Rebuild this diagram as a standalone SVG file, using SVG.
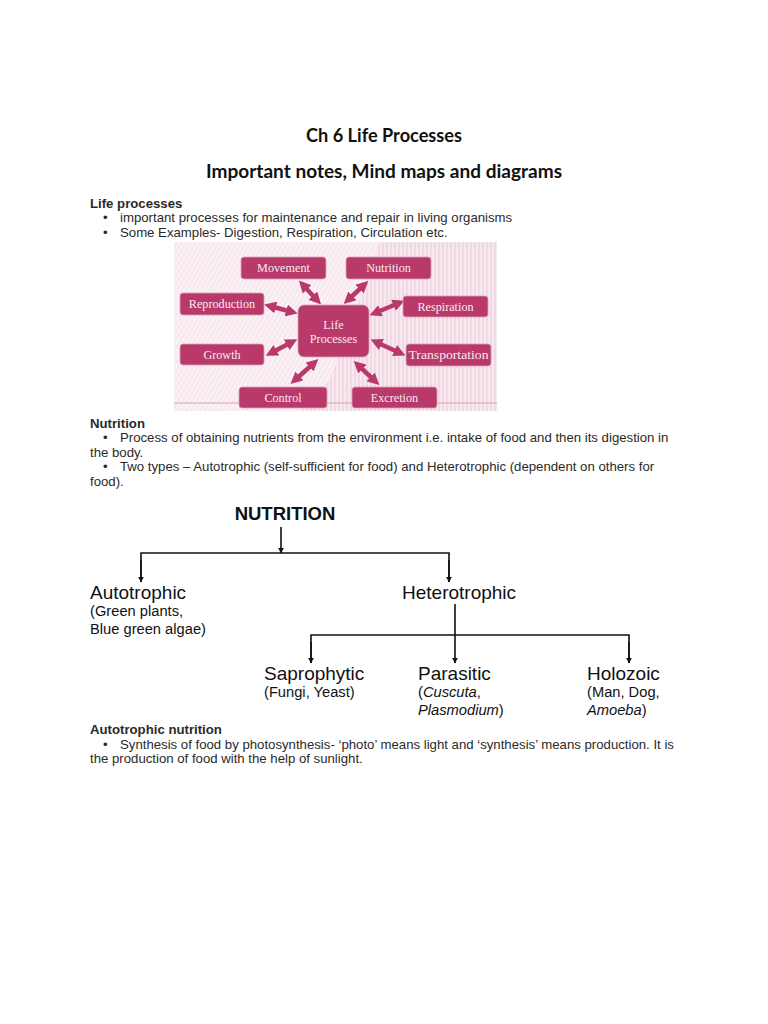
<svg xmlns="http://www.w3.org/2000/svg" width="768" height="1024" viewBox="0 0 768 1024">
<style>
.title{font-family:Lato,"Open Sans",sans-serif;font-weight:bold;font-size:18.5px;fill:#111;}
.h{font-family:"Liberation Sans",Arial,sans-serif;font-weight:bold;font-size:13.2px;fill:#2a2a2a;}
.b{font-family:"Liberation Sans",Arial,sans-serif;font-size:13.2px;fill:#2a2a2a;}
.box{fill:#b8396a;stroke:#d9a3b8;stroke-width:0.8;}
.bt{font-family:"Liberation Serif","DejaVu Serif",serif;font-size:12.2px;fill:#f6ebf0;text-anchor:middle;}
.pa{stroke:#b8396a;stroke-width:4.5;fill:none;marker-start:url(#ph);marker-end:url(#ph);}
.t1{font-family:"Liberation Sans",Arial,sans-serif;font-size:19px;fill:#111;}
.t2{font-family:"Liberation Sans",Arial,sans-serif;font-size:14.7px;fill:#111;}
.tl{stroke:#111;stroke-width:1.6;fill:none;}
.ta{stroke:#111;stroke-width:1.6;fill:none;marker-end:url(#ah);}
</style>
<defs>
<marker id="ph" viewBox="0 0 10 10" refX="5" refY="5" markerWidth="12" markerHeight="12" markerUnits="userSpaceOnUse" orient="auto-start-reverse">
<path d="M0,0 L10,5 L0,10 z" fill="#b8396a"/>
</marker>
<marker id="ah" viewBox="0 0 10 10" refX="9" refY="5" markerWidth="6" markerHeight="9" markerUnits="userSpaceOnUse" orient="auto">
<path d="M0,0 L10,5 L0,10 z" fill="#111"/>
</marker>
<pattern id="diag" width="4" height="4" patternUnits="userSpaceOnUse" patternTransform="rotate(30)">
<rect width="4" height="4" fill="#f7e9ee"/>
<line x1="0" y1="0" x2="0" y2="4" stroke="#ffffff" stroke-width="1.5"/>
</pattern>
<pattern id="vert" width="4" height="4" patternUnits="userSpaceOnUse">
<rect width="4" height="4" fill="#efd6e0"/>
<line x1="1" y1="0" x2="1" y2="4" stroke="#f9eef3" stroke-width="1.5"/>
</pattern>
<clipPath id="imgclip"><rect x="174" y="242" width="323" height="169"/></clipPath>
</defs>
<rect width="768" height="1024" fill="#ffffff"/>

<g id="titles">
<text class="title" x="384" y="142" text-anchor="middle" textLength="156" lengthAdjust="spacingAndGlyphs">Ch 6 Life Processes</text>
<text class="title" x="384" y="178" text-anchor="middle" textLength="356" lengthAdjust="spacingAndGlyphs">Important notes, Mind maps and diagrams</text>
</g>

<g id="life-processes-text">
<text class="h" x="90" y="208">Life processes</text>
<text class="b" x="103" y="222">•</text>
<text class="b" x="120" y="222">important processes for maintenance and repair in living organisms</text>
<text class="b" x="103" y="237">•</text>
<text class="b" x="120" y="237">Some Examples- Digestion, Respiration, Circulation etc.</text>
</g>

<g id="mindmap-bg" clip-path="url(#imgclip)">
<rect x="174" y="242" width="323" height="169" fill="url(#diag)"/>
<polygon points="380,242 497,242 497,411 300,411 330,380" fill="url(#vert)" opacity="0.85"/>
<line x1="174" y1="403" x2="497" y2="403" stroke="#d9a0b6" stroke-width="1"/>
</g>

<g id="mindmap-connectors">
<line class="pa" x1="303" y1="285" x2="317" y2="300"/>
<line class="pa" x1="364" y1="285" x2="348" y2="300"/>
<line class="pa" x1="270" y1="306" x2="292" y2="312"/>
<line class="pa" x1="399" y1="303" x2="375" y2="313"/>
<line class="pa" x1="271" y1="353" x2="292" y2="342"/>
<line class="pa" x1="376" y1="342" x2="400" y2="353"/>
<line class="pa" x1="295" y1="380" x2="314" y2="363"/>
<line class="pa" x1="358" y1="365" x2="375" y2="381"/>
</g>

<g id="mm-movement"><rect class="box" x="241" y="257" width="85" height="22" rx="3"/><text class="bt" x="283.5" y="272">Movement</text></g>
<g id="mm-nutrition"><rect class="box" x="346" y="257" width="85" height="22" rx="3"/><text class="bt" x="388.5" y="272">Nutrition</text></g>
<g id="mm-reproduction"><rect class="box" x="180" y="293" width="84" height="22" rx="3"/><text class="bt" x="222" y="308">Reproduction</text></g>
<g id="mm-respiration"><rect class="box" x="403" y="296" width="85" height="21" rx="3"/><text class="bt" x="445.5" y="310.5">Respiration</text></g>
<g id="mm-life"><rect class="box" x="298" y="305" width="71" height="52" rx="6"/><text class="bt" x="333.5" y="329" font-size="13">Life</text><text class="bt" x="333.5" y="343" font-size="13">Processes</text></g>
<g id="mm-growth"><rect class="box" x="180" y="344" width="84" height="21" rx="3"/><text class="bt" x="222" y="358.5">Growth</text></g>
<g id="mm-transportation"><rect class="box" x="406" y="344" width="85" height="22" rx="3"/><text class="bt" x="448.5" y="359" textLength="80" lengthAdjust="spacingAndGlyphs">Transportation</text></g>
<g id="mm-control"><rect class="box" x="239" y="387" width="88" height="21" rx="3"/><text class="bt" x="283" y="401.5">Control</text></g>
<g id="mm-excretion"><rect class="box" x="352" y="387" width="85" height="21" rx="3"/><text class="bt" x="394.5" y="401.5">Excretion</text></g>

<g id="nutrition-text">
<text class="h" x="90" y="428">Nutrition</text>
<text class="b" x="103" y="442">•</text>
<text class="b" x="120" y="442">Process of obtaining nutrients from the environment i.e. intake of food and then its digestion in</text>
<text class="b" x="90" y="457">the body.</text>
<text class="b" x="103" y="471">•</text>
<text class="b" x="120" y="471">Two types – Autotrophic (self-sufficient for food) and Heterotrophic (dependent on others for</text>
<text class="b" x="90" y="486">food).</text>
</g>

<g id="tree-connectors">
<line class="ta" x1="281" y1="527" x2="281" y2="553"/>
<polyline class="tl" points="141,582 141,553 449,553 449,582"/>
<line class="ta" x1="141" y1="560" x2="141" y2="582"/>
<line class="ta" x1="449" y1="560" x2="449" y2="582"/>
<line class="ta" x1="455" y1="604" x2="455" y2="663"/>
<polyline class="tl" points="311,663 311,635 629,635 629,663"/>
<line class="ta" x1="311" y1="642" x2="311" y2="663"/>
<line class="ta" x1="629" y1="642" x2="629" y2="663"/>
</g>

<g id="t-nutrition"><text x="285" y="520" text-anchor="middle" font-family="'Liberation Sans',Arial,sans-serif" font-weight="bold" font-size="18.5" fill="#111">NUTRITION</text></g>
<g id="t-autotrophic">
<text class="t1" x="90" y="599">Autotrophic</text>
<text class="t2" x="90" y="616">(Green plants,</text>
<text class="t2" x="90" y="634">Blue green algae)</text>
</g>
<g id="t-heterotrophic"><text class="t1" x="402" y="599">Heterotrophic</text></g>
<g id="t-saprophytic">
<text class="t1" x="264" y="680">Saprophytic</text>
<text class="t2" x="264" y="697">(Fungi, Yeast)</text>
</g>
<g id="t-parasitic">
<text class="t1" x="418" y="680">Parasitic</text>
<text class="t2" x="418" y="697">(<tspan font-style="italic">Cuscuta</tspan>,</text>
<text class="t2" x="418" y="715"><tspan font-style="italic">Plasmodium</tspan>)</text>
</g>
<g id="t-holozoic">
<text class="t1" x="587" y="680">Holozoic</text>
<text class="t2" x="587" y="697">(Man, Dog,</text>
<text class="t2" x="587" y="715"><tspan font-style="italic">Amoeba</tspan>)</text>
</g>

<g id="autotrophic-text">
<text class="h" x="90" y="734">Autotrophic nutrition</text>
<text class="b" x="103" y="749">•</text>
<text class="b" x="120" y="749">Synthesis of food by photosynthesis- ‘photo’ means light and ‘synthesis’ means production. It is</text>
<text class="b" x="90" y="763">the production of food with the help of sunlight.</text>
</g>
</svg>
